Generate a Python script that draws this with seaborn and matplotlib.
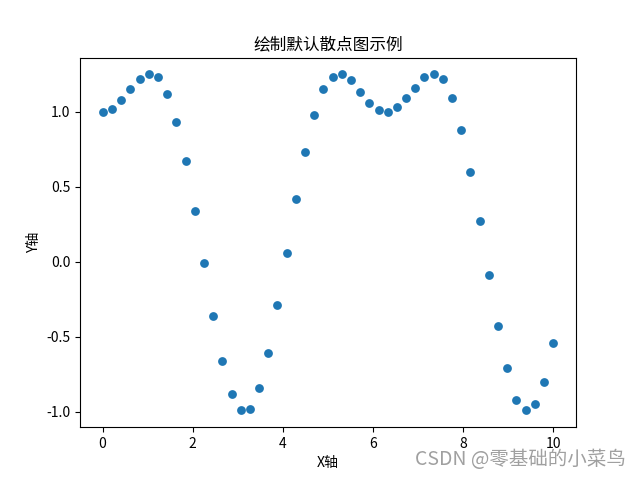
import matplotlib
matplotlib.use('Agg')
import matplotlib.pyplot as plt
import seaborn as sns

x_vals = [0.00, 0.20, 0.41, 0.61, 0.82, 1.02, 1.22, 1.43, 1.63, 1.84,
          2.04, 2.24, 2.45, 2.65, 2.86, 3.06, 3.27, 3.47, 3.67, 3.88,
          4.08, 4.29, 4.49, 4.69, 4.90, 5.10, 5.31, 5.51, 5.71, 5.92,
          6.12, 6.33, 6.53, 6.73, 6.94, 7.14, 7.35, 7.55, 7.76, 7.96,
          8.16, 8.37, 8.57, 8.78, 8.98, 9.18, 9.39, 9.59, 9.80, 10.00]
y_vals = [1.00, 1.02, 1.08, 1.15, 1.22, 1.25, 1.23, 1.12, 0.93, 0.67,
          0.34, -0.01, -0.36, -0.66, -0.88, -0.99, -0.98, -0.84, -0.61, -0.29,
          0.06, 0.42, 0.73, 0.98, 1.15, 1.23, 1.25, 1.21, 1.13, 1.06,
          1.01, 1.00, 1.03, 1.09, 1.16, 1.23, 1.25, 1.22, 1.09, 0.88,
          0.60, 0.27, -0.09, -0.43, -0.71, -0.92, -0.99, -0.95, -0.80, -0.54]

plt.rcParams['font.family'] = ['Noto Sans CJK SC', 'DejaVu Sans']
plt.rcParams['axes.unicode_minus'] = False

fig, ax = plt.subplots(figsize=(6.4, 4.8), dpi=100)
sns.scatterplot(x=x_vals, y=y_vals, ax=ax, color='#1f77b4', s=40, linewidth=0)
ax.set_title('绘制默认散点图示例')
ax.set_xlabel('X轴')
ax.set_ylabel('Y轴')
fig.text(0.978, 0.02, 'CSDN @零基础的小菜鸟', ha='right', va='bottom',
         color='#a0a0a0', fontsize=14, fontweight='light')
fig.savefig('out.png')
